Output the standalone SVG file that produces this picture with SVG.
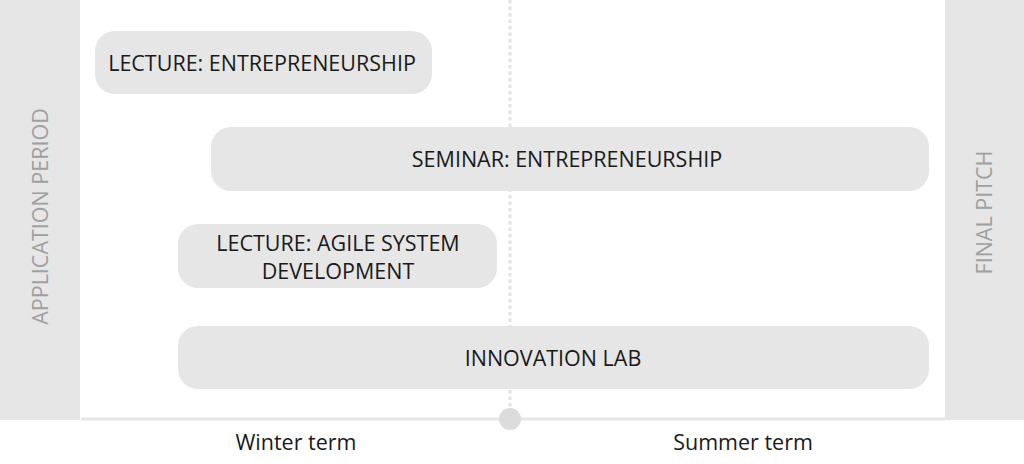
<svg xmlns="http://www.w3.org/2000/svg" width="1024" height="464" viewBox="0 0 1024 464">
<style>
.side{fill:#e6e6e6}
.box rect{fill:#e6e6e6}
.box text,.term{font-family:"Open Sans","Liberation Sans",sans-serif;font-size:21.5px;fill:#1a1a1a;text-anchor:middle}
.vert{font-family:"Open Sans","Liberation Sans",sans-serif;font-size:21.5px;fill:#a0a0a0;text-anchor:middle}
</style>
<rect width="1024" height="464" fill="#fff"/>
<g id="application-period">
<rect class="side" x="0" y="0" width="80" height="420"/>
<text class="vert" transform="translate(47.5,216.5) rotate(-90)">APPLICATION PERIOD</text>
</g>
<g id="final-pitch">
<rect class="side" x="945" y="0" width="79" height="420"/>
<text class="vert" transform="translate(991.5,212.5) rotate(-90)">FINAL PITCH</text>
</g>
<g id="connectors">
<line x1="510" y1="0" x2="510" y2="418" stroke="#e3e3e3" stroke-width="3" stroke-dasharray="3.5 3"/>
<line x1="81" y1="419" x2="945" y2="419" stroke="#e6e6e6" stroke-width="3"/>
<circle cx="510" cy="419" r="11" fill="#dcdcdc"/>
</g>
<g id="lecture-entrepreneurship" class="box">
<rect x="95" y="31" width="337" height="63" rx="20"/>
<text x="262" y="70.5">LECTURE: ENTREPRENEURSHIP</text>
</g>
<g id="seminar-entrepreneurship" class="box">
<rect x="211" y="127" width="718" height="64" rx="20"/>
<text x="567" y="166.5">SEMINAR: ENTREPRENEURSHIP</text>
</g>
<g id="lecture-agile" class="box">
<rect x="178" y="224" width="319" height="64" rx="20"/>
<text x="338" y="250.5">LECTURE: AGILE SYSTEM</text>
<text x="338" y="278.5">DEVELOPMENT</text>
</g>
<g id="innovation-lab" class="box">
<rect x="178" y="326" width="751" height="63" rx="20"/>
<text x="553" y="365.5">INNOVATION LAB</text>
</g>
<g id="terms">
<text class="term" x="296" y="450">Winter term</text>
<text class="term" x="743" y="450">Summer term</text>
</g>
</svg>
